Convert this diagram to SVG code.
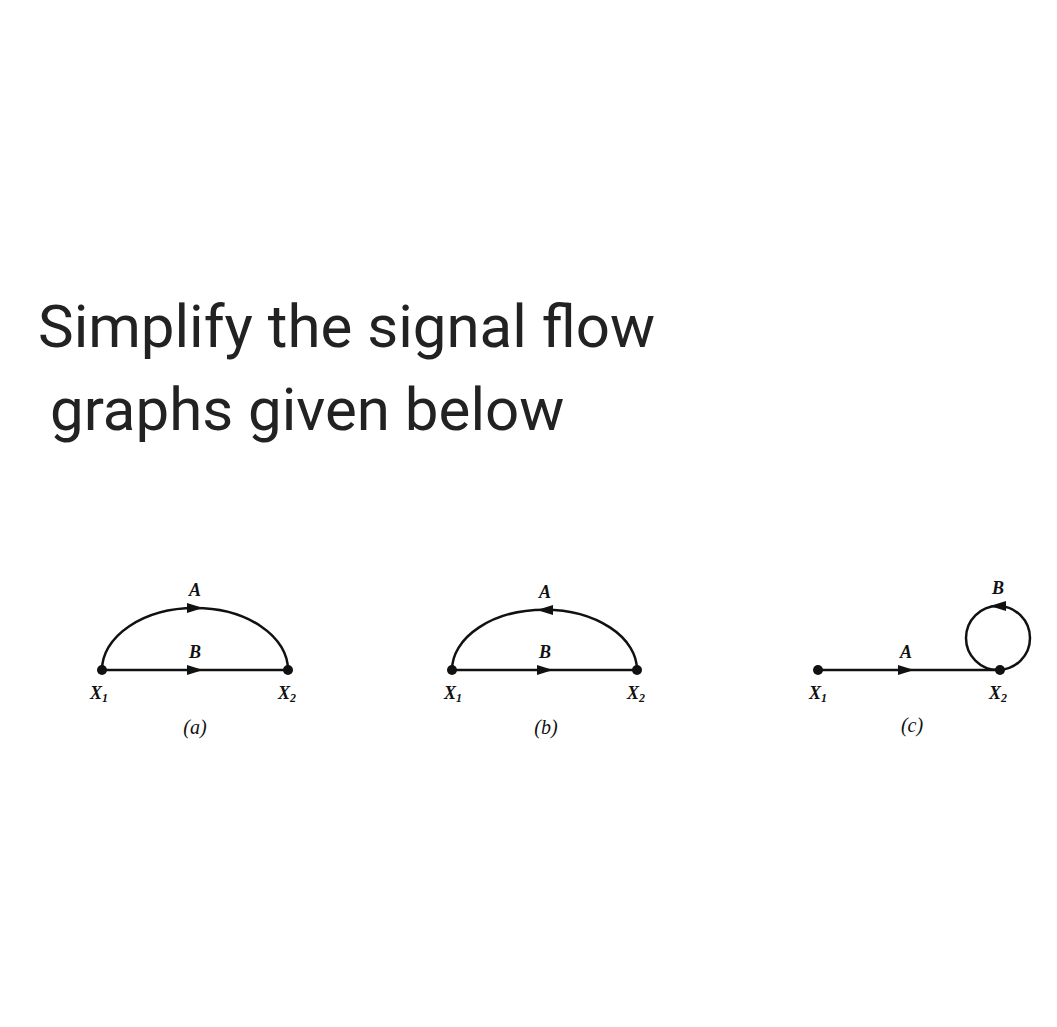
<svg xmlns="http://www.w3.org/2000/svg" width="1057" height="1027" viewBox="0 0 1057 1027">
<style>
.t{font-family:Roboto,"Liberation Sans",sans-serif;font-size:60px;fill:#222}
.l{font-family:"Liberation Serif",serif;font-style:italic;font-weight:bold;font-size:18px;fill:#111;text-anchor:middle}
.c{font-family:"Liberation Serif",serif;font-style:italic;font-size:20px;fill:#111;text-anchor:middle}
.e{fill:none;stroke:#111;stroke-width:2.5}
.n{fill:#111}
.a{fill:#111}
</style>
<rect width="1057" height="1027" fill="#fff"/>
<text class="t" x="38" y="347">Simplify the signal flow</text>
<text class="t" x="50" y="430">graphs given below</text>
<g id="connectors">
<path class="e" d="M102,670 A93,62 0 0 1 288,670"/>
<path class="e" d="M102,670 H288"/>
<path class="e" d="M452,670 A92,60 0 0 1 637,670"/>
<path class="e" d="M452,670 H637"/>
<path class="e" d="M818,670 H1000"/>
<circle class="e" cx="998" cy="638" r="32"/>
<polygon class="a" points="203,608 187,603 187,613"/>
<polygon class="a" points="203,670 187,665 187,675"/>
<polygon class="a" points="537,610 553,605 553,615"/>
<polygon class="a" points="553,670 537,665 537,675"/>
<polygon class="a" points="914,670 898,665 898,675"/>
<polygon class="a" points="990,606 1006,601 1006,611"/>
</g>
<g id="a-X1"><circle class="n" cx="102" cy="670" r="5"/><text class="l" x="99" y="699">X<tspan font-size="12" dy="3">1</tspan></text></g>
<g id="a-X2"><circle class="n" cx="288" cy="670" r="5"/><text class="l" x="287" y="699">X<tspan font-size="12" dy="3">2</tspan></text></g>
<text class="l" x="195" y="596">A</text><text class="l" x="195" y="658">B</text><text class="c" x="195" y="734">(a)</text>
<g id="b-X1"><circle class="n" cx="452" cy="670" r="5"/><text class="l" x="453" y="699">X<tspan font-size="12" dy="3">1</tspan></text></g>
<g id="b-X2"><circle class="n" cx="637" cy="670" r="5"/><text class="l" x="636" y="699">X<tspan font-size="12" dy="3">2</tspan></text></g>
<text class="l" x="545" y="598">A</text><text class="l" x="545" y="658">B</text><text class="c" x="546" y="734">(b)</text>
<g id="c-X1"><circle class="n" cx="818" cy="670" r="5"/><text class="l" x="818" y="699">X<tspan font-size="12" dy="3">1</tspan></text></g>
<g id="c-X2"><circle class="n" cx="1000" cy="670" r="5"/><text class="l" x="998" y="699">X<tspan font-size="12" dy="3">2</tspan></text></g>
<text class="l" x="906" y="658">A</text><text class="l" x="998" y="594">B</text><text class="c" x="912" y="732">(c)</text>
</svg>
